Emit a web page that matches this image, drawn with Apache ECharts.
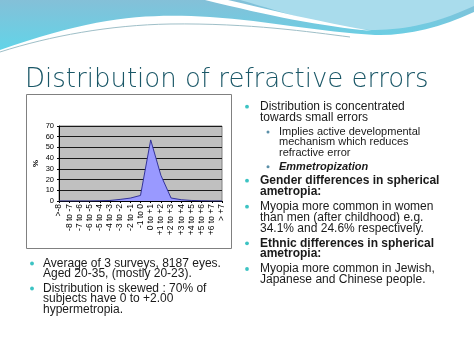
<!DOCTYPE html>
<html>
<head>
<meta charset="utf-8">
<script src="https://cdn.jsdelivr.net/npm/echarts@6/dist/echarts.min.js"></script>
<style>
html,body{margin:0;padding:0;background:#ffffff;}
#c{width:474px;height:355px;}
</style>
</head>
<body>
<div id="c"></div>
<script>
// ---- data ----
var categories = [">-8","-8 to -7","-7 to -6","-6 to -5","-5 to -4","-4 to -3","-3 to -2","-2 to -1","-1 to 0","0 to +1","+1 to +2","+2 to +3","+3 to +4","+4 to +5","+5 to +6","+6 to +7","> +7"];
var percentValues = [0, 0, 0, 0, 0.2, 0.5, 1.5, 2.7, 5.2, 57, 24, 2.8, 1.2, 0.5, 0.2, 0, 0];
var yTicks = [0, 70, 10]; // min, max, interval
var titleText = "Distribution of refractive errors";
var leftBullets = [
  ["Average of 3 surveys, 8187 eyes.", "Aged 20-35, (mostly 20-23)."],
  ["Distribution is skewed : 70% of", "subjects have 0 to +2.00", "hypermetropia."]
];
var rightItems = [
  {lvl:1, lines:["Distribution is concentrated","towards small errors"]},
  {lvl:2, lines:["Implies active developmental","mechanism which reduces","refractive error"]},
  {lvl:2, lines:["Emmetropization"], style:"italic bold"},
  {lvl:1, lines:["Gender differences in spherical","ametropia:"], style:"bold"},
  {lvl:1, lines:["Myopia more common in women","than men (after childhood) e.g.","34.1% and 24.6% respectively."]},
  {lvl:1, lines:["Ethnic differences in spherical","ametropia:"], style:"bold"},
  {lvl:1, lines:["Myopia more common in Jewish,","Japanese and Chinese people."]}
];

var FONT = '"Liberation Sans", Arial, sans-serif';

// custom decorative shape
var Deco = echarts.graphic.extendShape({
  shape:{cmds:[]},
  buildPath:function(ctx, shape){
    shape.cmds.forEach(function(c){ ctx[c[0]].apply(ctx, c.slice(1)); });
  }
});
echarts.graphic.registerShape('deco', Deco);

var graphics = [];

// header decoration
graphics.push({type:'deco', z:-20, shape:{cmds:[['moveTo',0,0],['lineTo',474,0],['lineTo',474,12],['bezierCurveTo',440,28,405,36,375,35],['bezierCurveTo',320,32,270,21,210,17],['bezierCurveTo',150,13,95,16,0,50],['closePath']]},
  style:{fill:new echarts.graphic.LinearGradient(0,0,0,1,[{offset:0,color:'#84c0d8'},{offset:1,color:'#62d4e8'}])}});
graphics.push({type:'deco', z:-19, shape:{cmds:[['moveTo',240,0],['lineTo',474,0],['lineTo',474,6],['bezierCurveTo',430,26,400,30,370,30],['bezierCurveTo',320,26,290,14,240,0],['closePath']]},
  style:{fill:'#a9dcec'}});
graphics.push({type:'deco', z:-18, shape:{cmds:[['moveTo',205,0],['lineTo',228,0],['bezierCurveTo',270,10,320,22,372,31],['bezierCurveTo',320,26,270,16,205,0],['closePath']]},
  style:{fill:'#ffffff'}});
graphics.push({type:'deco', z:-18, shape:{cmds:[['moveTo',0,52],['bezierCurveTo',50,36,110,25,170,24],['bezierCurveTo',250,23,310,32,350,37]]},
  style:{fill:'none', stroke:'#9fbfc8', lineWidth:1}});

// title
graphics.push({type:'text', z:5, style:{text:titleText, x:25, y:80, font:'200 26px "DejaVu Sans", sans-serif', fill:'#1a5767', verticalAlign:'middle'}});

// chart box
graphics.push({type:'rect', z:-10, shape:{x:26.5, y:94.5, width:205, height:154}, style:{fill:'#ffffff', stroke:'#808080', lineWidth:1}});

// left bullets
var ly = [[263.5,273.8],[288.5,299,309.5]];
leftBullets.forEach(function(b, bi){
  graphics.push({type:'circle', shape:{cx:32, cy:ly[bi][0], r:1.9}, style:{fill:'#3cc3c3'}});
  b.forEach(function(t, li){
    graphics.push({type:'text', style:{text:t, x:43, y:ly[bi][li], font:'12px '+FONT, fill:'#1a1a1a', verticalAlign:'middle'}});
  });
});

// right bullets
var ry = [[106.7,117.3],[132,142.3,152.7],[166.7],[180.7,191.7],[206.7,217.7,228.3],[243.3,254],[269,280]];
rightItems.forEach(function(it, ii){
  var bx = it.lvl===1 ? 247 : 268;
  var tx = it.lvl===1 ? 260 : 279;
  var fs = it.lvl===1 ? 12 : 11;
  graphics.push({type:'circle', shape:{cx:bx, cy:ry[ii][0], r: it.lvl===1?1.9:1.5}, style:{fill: it.lvl===1?'#3cc3c3':'#5a8fa8'}});
  it.lines.forEach(function(t, li){
    graphics.push({type:'text', style:{text:t, x:tx, y:ry[ii][li], font:(it.style?it.style+' ':'')+fs+'px '+FONT, fill:'#1a1a1a', verticalAlign:'middle'}});
  });
});

var chart = echarts.init(document.getElementById('c'), null, {renderer:'canvas'});
chart.setOption({
  animation:false,
  backgroundColor:'#ffffff',
  graphic: graphics,
  grid:{left:59, right:252, top:126, bottom:154, show:true, backgroundColor:'#c0c0c0', borderColor:'#808080', borderWidth:1, outerBoundsMode:'none', containLabel:false},
  xAxis:{
    type:'category', data:categories, boundaryGap:false, z:2,
    axisLine:{show:true, lineStyle:{color:'#000', width:1}},
    axisTick:{show:true, length:2, lineStyle:{color:'#000'}},
    axisLabel:{rotate:90, interval:0, fontSize:8.5, color:'#000', margin:3, fontFamily:FONT, overflow:'none', hideOverlap:false},
    splitLine:{show:false}
  },
  yAxis:{
    type:'value', min:yTicks[0], max:yTicks[1], interval:yTicks[2], z:2,
    name:'%', nameLocation:'middle', nameGap:19, nameRotate:90,
    nameTextStyle:{fontSize:8, color:'#000', fontFamily:FONT, fontWeight:'bold'},
    axisLine:{show:true, lineStyle:{color:'#000', width:1}},
    axisTick:{show:true, length:2, lineStyle:{color:'#000'}},
    axisLabel:{fontSize:7.5, color:'#000', margin:5, fontFamily:FONT},
    splitLine:{show:true, lineStyle:{color:'#1a1a1a', width:1}}
  },
  series:[{
    type:'line', data:percentValues, symbol:'none', z:3,
    lineStyle:{color:'#333399', width:1},
    areaStyle:{color:'#9999ff', opacity:1}
  }]
});
</script>
</body>
</html>
